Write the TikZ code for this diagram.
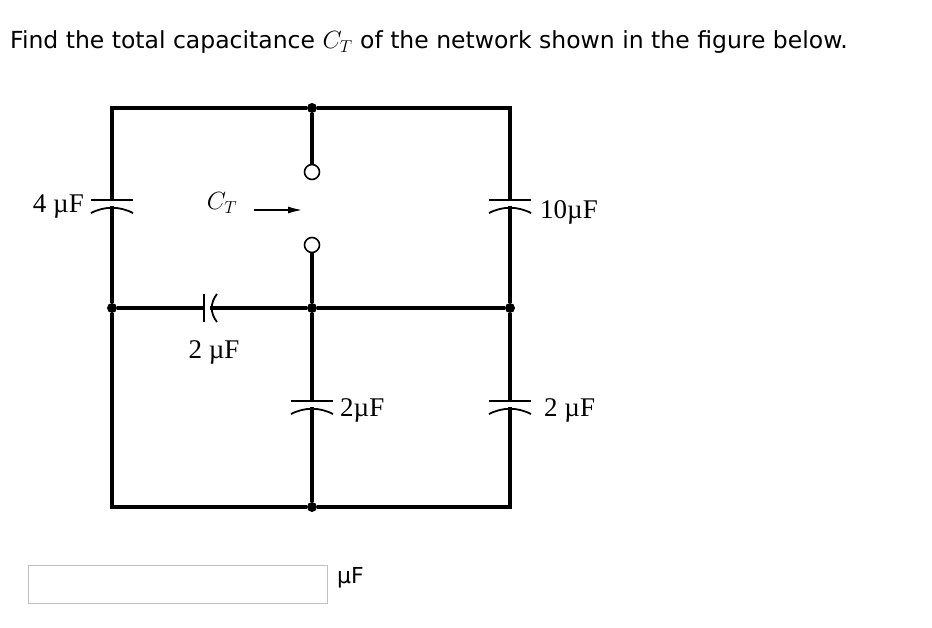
\documentclass[tikz,border=0pt]{standalone}
\usepackage{fontspec}
\setmainfont{DejaVu Sans}
\newfontfamily\circfont{Liberation Serif}
\usetikzlibrary{arrows.meta}
\begin{document}
\begin{tikzpicture}[x=1pt,y=-1pt]
  \tikzset{
    wire/.style={line width=3.2pt},
    plate/.style={line width=1.8pt},
    jdot/.style={circle, fill=black, inner sep=0pt, minimum size=10pt},
    term/.style={circle, draw, line width=1.6pt, fill=white, inner sep=0pt, minimum size=15pt},
    clabel/.style={font=\circfont\fontsize{27}{27}\selectfont, inner sep=0pt}
  }
  \useasboundingbox (0,0) rectangle (932,628);
  % question
  \node[anchor=west, inner sep=0pt, font=\fontsize{23.5}{24}\selectfont] (q) at (10,42)
    {Find the total capacitance $C_T$ of the network shown in the figure below.};
  % corners and junctions
  \coordinate (tl) at (112,108);
  \coordinate (tr) at (510,108);
  \coordinate (bl) at (112,507);
  \coordinate (br) at (510,507);
  \node[jdot] (tm) at (312,108) {};
  \node[jdot] (ml) at (112,308) {};
  \node[jdot] (mm) at (312,308) {};
  \node[jdot] (mr) at (510,308) {};
  \node[jdot] (bm) at (312,507) {};
  \node[term] (ta) at (312,172) {};
  \node[term] (tb) at (312,245) {};
  % capacitor plate points
  \coordinate (c1a) at (112,200); \coordinate (c1b) at (112,206);
  \coordinate (c2a) at (510,200); \coordinate (c2b) at (510,206);
  \coordinate (c3a) at (312,401); \coordinate (c3b) at (312,407);
  \coordinate (c4a) at (510,401); \coordinate (c4b) at (510,407);
  \coordinate (c5a) at (204,308); \coordinate (c5b) at (210,308);
  % wires
  \draw[wire] (tm) -- (tl) -- (c1a) (c1b) -- (ml) -- (bl) -- (bm);
  \draw[wire] (tm) -- (tr) -- (c2a) (c2b) -- (mr) -- (c4a) (c4b) -- (br) -- (bm);
  \draw[wire] (tm) -- (ta) (tb) -- (mm) -- (c3a) (c3b) -- (bm);
  \draw[wire] (ml) -- (c5a) (c5b) -- (mm) -- (mr);
  % plates
  \foreach \c in {c1,c2,c3,c4}{
    \draw[plate] ([xshift=-21pt]\c a) -- ([xshift=21pt]\c a);
    \draw[plate] ([xshift=-21pt,yshift=-7pt]\c b) .. controls ([xshift=-7pt]\c b) and ([xshift=7pt]\c b) .. ([xshift=21pt,yshift=-7pt]\c b);
  }
  \draw[plate] ([yshift=14pt]c5a) -- ([yshift=-14pt]c5a);
  \draw[plate] ([xshift=7pt,yshift=14pt]c5b) .. controls ([yshift=5pt]c5b) and ([yshift=-5pt]c5b) .. ([xshift=7pt,yshift=-14pt]c5b);
  % labels
  \node[clabel, anchor=east] (l1) at (84,206) {4 µF};
  \node[clabel, anchor=west] (l2) at (540,212) {10µF};
  \node[clabel] (l5) at (214,352) {2 µF};
  \node[clabel, anchor=west] (l3) at (340,410) {2µF};
  \node[clabel, anchor=west] (l4) at (544,410) {2 µF};
  \node[clabel] (ct) at (222,203) {$C_T$};
  \coordinate (arE) at (302,210);
  \draw[line width=1.4pt, -{Latex[length=14pt,width=7pt]}] (254,210) -- (arE);
  % answer box
  \node[draw=gray!50, line width=1pt, minimum width=299pt, minimum height=38pt, anchor=north west, inner sep=0pt] (box) at (28,565) {};
  \node[anchor=west, inner sep=0pt, font=\fontsize{22}{22}\selectfont] (unit) at (337,578) {µF};
\end{tikzpicture}
\end{document}
